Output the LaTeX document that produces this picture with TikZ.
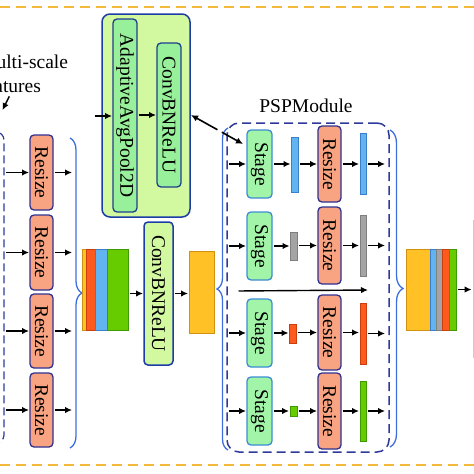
\documentclass[tikz,border=0pt]{standalone}
\usepackage{fontspec}
\usepackage{graphicx}
\setmainfont{Liberation Serif}
\usetikzlibrary{arrows.meta,decorations.pathreplacing}
\definecolor{resizefill}{HTML}{F8A482}
\definecolor{resizedraw}{HTML}{2E3192}
\definecolor{stagefill}{HTML}{A2F5A8}
\definecolor{stagedraw}{HTML}{3C8CD2}
\definecolor{aapfill}{HTML}{98F09A}
\definecolor{aapdraw}{HTML}{1E3F8F}
\definecolor{contfill}{HTML}{D2F8A0}
\definecolor{contdraw}{HTML}{1C3CA8}
\definecolor{orfill}{HTML}{FFC125}
\definecolor{ordraw}{HTML}{D09010}
\definecolor{rdfill}{HTML}{FF5A1E}
\definecolor{rddraw}{HTML}{C84010}
\definecolor{blfill}{HTML}{62B4F0}
\definecolor{bldraw}{HTML}{3A7FC8}
\definecolor{gyfill}{HTML}{A4A4A4}
\definecolor{gydraw}{HTML}{7F7F7F}
\definecolor{gnfill}{HTML}{66CC00}
\definecolor{gndraw}{HTML}{3E9A00}
\definecolor{bracec}{HTML}{3D6EE0}
\definecolor{pspc}{HTML}{2E3A9A}
\definecolor{odashc}{HTML}{F2B93B}
\definecolor{lbfill}{HTML}{D6E4FA}
\definecolor{lbdraw}{HTML}{B8CCF0}
\newcommand\vtxt[1]{\rotatebox{-90}{#1}}
\begin{document}
\begin{tikzpicture}[x=1pt,y=-1pt,
  font=\fontsize{19.5}{22}\selectfont,
  arr/.style={line width=1.4pt,-{Latex[length=7pt,width=6.5pt]},shorten <=1.5pt,shorten >=1pt},
  dasharr/.style={line width=1.6pt,{Latex[length=7pt,width=6.5pt]}-{Latex[length=7pt,width=6.5pt]},dash pattern=on 24pt off 5pt},
  box/.style={draw,rounded corners=4pt,line width=1.3pt,inner sep=0pt,outer sep=0pt},
  resizebox/.style={box,fill=resizefill,draw=resizedraw},
  stagebox/.style={box,fill=stagefill,draw=stagedraw},
  aapbox/.style={box,fill=aapfill,draw=aapdraw},
  contbox/.style={box,fill=contfill,draw=contdraw,line width=1.5pt},
  flat/.style={draw,line width=0.8pt,inner sep=0pt,outer sep=0pt},
  orb/.style={flat,fill=orfill,draw=ordraw},
  rdb/.style={flat,fill=rdfill,draw=rddraw},
  blb/.style={flat,fill=blfill,draw=bldraw},
  gyb/.style={flat,fill=gyfill,draw=gydraw},
  gnb/.style={flat,fill=gnfill,draw=gndraw},
  brc/.style={decorate,decoration={brace,amplitude=#1},draw=bracec,line width=1.3pt},
  odash/.style={draw=odashc,line width=1.2pt,dash pattern=on 10pt off 6pt},
  pspbox/.style={draw=pspc,line width=1.5pt,dash pattern=on 9pt off 5pt,rounded corners=12pt,inner sep=0pt,outer sep=0pt}
]
\useasboundingbox (0,0) rectangle (474,474);
\clip (0,0) rectangle (474,474);

% orange dashed separators
\draw[odash] (0,7) -- (474,7);
\draw[odash] (0,465) -- (474,465);

% multi-scale features (cut at left)
\node[anchor=base west,inner sep=0pt] (t1) at (-21,68) {Multi-scale};
\node[anchor=base west,inner sep=0pt] (t2) at (-21,92) {features};
\coordinate (m1) at (10,95);
\coordinate (m2) at (2,111);
\draw[arr] (m1) -- (m2);

% left dashed box
\node[draw=pspc,line width=1.2pt,dash pattern=on 8pt off 4pt,rounded corners=8pt,
      minimum width=50pt,minimum height=311pt,inner sep=0pt] (ms) at (-21,287.5) {};

% left resize column
\node[resizebox,minimum width=23pt,minimum height=75pt] (L1) at (41.5,172.5) {\vtxt{Resize}};
\node[resizebox,minimum width=23pt,minimum height=75pt] (L2) at (41.5,252.5) {\vtxt{Resize}};
\node[resizebox,minimum width=23pt,minimum height=74pt] (L3) at (41.5,331) {\vtxt{Resize}};
\node[resizebox,minimum width=23pt,minimum height=74pt] (L4) at (41.5,410) {\vtxt{Resize}};
\coordinate (b1) at (73,0);
\foreach \n in {L1,L2,L3,L4}{
  \draw[arr] (ms.east |- \n) -- (\n.west);
  \draw[arr] (\n.east) -- (\n.east -| b1);
}
\draw[brc=12pt] (70,138) -- (70,448);

% concat block
\node[orb,minimum width=4pt,minimum height=81pt] (c1) at (84,289.5) {};
\node[rdb,minimum width=9pt,minimum height=81pt] (c2) at (90.5,289.5) {};
\node[blb,minimum width=12pt,minimum height=81pt] (c3) at (101,289.5) {};
\node[gnb,minimum width=21pt,minimum height=81pt] (c4) at (117.5,289.5) {};

% middle ConvBNReLU and orange block
\node[contbox,minimum width=29pt,minimum height=143pt] (MC) at (158.5,293.5) {\vtxt{ConvBNReLU}};
\node[orb,minimum width=25pt,minimum height=82pt] (OB) at (201.5,292) {};
\draw[arr] (c4.east |- MC.west) -- (MC.west);
\draw[arr] (MC.east) -- (OB.west |- MC.east);

% top green container
\node[contbox,rounded corners=8pt,minimum width=88pt,minimum height=203pt] (G) at (146,115.5) {};
\node[aapbox,minimum width=24pt,minimum height=193pt] (AAP) at (125,115.5) {\vtxt{AdaptiveAvgPool2D}};
\node[aapbox,minimum width=24pt,minimum height=144pt] (CBt) at (169,115) {\vtxt{ConvBNReLU}};
\coordinate (in0) at (93,116);
\draw[arr] (in0) -- (AAP.west |- in0);
\draw[arr] (AAP.east |- CBt.west) -- (CBt.west);

% brace before PSP
\draw[brc=11pt] (228,128) -- (228,450) [decoration={mirror}];

% PSP module
\node[pspbox,minimum width=162pt,minimum height=329pt] (P) at (308,287.5) {};
\node (pspl) at (306,106) {PSPModule};

\node[stagebox,minimum width=25pt,minimum height=68pt] (S1) at (259.5,164) {\vtxt{Stage}};
\node[stagebox,minimum width=25pt,minimum height=68pt] (S2) at (259.5,246) {\vtxt{Stage}};
\node[stagebox,minimum width=25pt,minimum height=68pt] (S3) at (259.5,333) {\vtxt{Stage}};
\node[stagebox,minimum width=25pt,minimum height=68pt] (S4) at (259.5,411) {\vtxt{Stage}};

\node[blb,minimum width=7pt,minimum height=55pt] (A1) at (295,164.5) {};
\node[gyb,minimum width=7pt,minimum height=28pt] (A2) at (294,246) {};
\node[rdb,minimum width=7pt,minimum height=19pt] (A3) at (293,333.5) {};
\node[gnb,minimum width=7pt,minimum height=10pt] (A4) at (293.5,411) {};

\node[resizebox,minimum width=23pt,minimum height=76pt] (R1) at (329.5,164) {\vtxt{Resize}};
\node[resizebox,minimum width=23pt,minimum height=77pt] (R2) at (329.5,245.5) {\vtxt{Resize}};
\node[resizebox,minimum width=23pt,minimum height=75pt] (R3) at (329.5,332.5) {\vtxt{Resize}};
\node[resizebox,minimum width=23pt,minimum height=76pt] (R4) at (329.5,411) {\vtxt{Resize}};

\node[blb,minimum width=6pt,minimum height=61pt] (B1) at (363,164) {};
\node[gyb,minimum width=6pt,minimum height=61pt] (B2) at (363,245.5) {};
\node[rdb,minimum width=6pt,minimum height=61pt] (B3) at (363,333.5) {};
\node[gnb,minimum width=6pt,minimum height=60pt] (B4) at (363,411) {};

\foreach \i in {1,2,3,4}{
  \draw[arr] (P.west |- S\i) -- (S\i.west);
  \draw[arr] (S\i.east) -- (A\i.west |- S\i.east);
  \draw[arr] (A\i.east |- R\i.west) -- (R\i.west);
  \draw[arr] (R\i.east) -- (B\i.west |- R\i.east);
  \draw[arr] (B\i.east) -- ([xshift=-3pt]P.east |- B\i.east);
}
\coordinate (k1) at (237,291);
\coordinate (k2) at (369,290);
\draw[arr] (k1) -- (k2);

% dashed link from container to Stage
\draw[dasharr] ([xshift=1pt]G.east |- CBt.east) -- ([xshift=-4pt,yshift=-14pt]S1.north west);

% brace after PSP
\draw[brc=13pt] (390,130) -- (390,447);

% output block
\node[orb,minimum width=24pt,minimum height=81pt] (Q1) at (418,289.5) {};
\node[blb,minimum width=6pt,minimum height=81pt] (Q2) at (433,289.5) {};
\node[gyb,minimum width=6pt,minimum height=81pt] (Q3) at (439,289.5) {};
\node[rdb,minimum width=7pt,minimum height=81pt] (Q4) at (445.5,289.5) {};
\node[gnb,minimum width=7pt,minimum height=81pt] (Q5) at (452.5,289.5) {};
\node[draw=lbdraw,fill=lbfill,line width=0.8pt,minimum width=47pt,minimum height=137pt,inner sep=0pt] (LB) at (496.5,288.5) {};
\draw[arr] (Q5.east) -- (LB.west |- Q5.east);
\end{tikzpicture}
\end{document}
